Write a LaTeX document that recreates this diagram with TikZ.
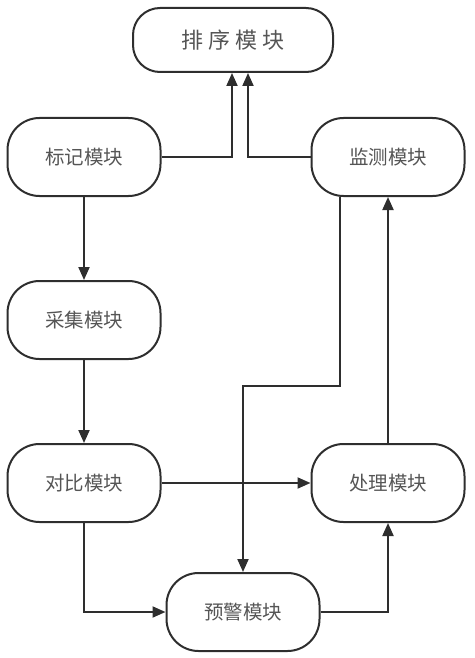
\documentclass[tikz,border=0pt]{standalone}
\usepackage{fontspec}
\newfontfamily\cjk{Noto Sans CJK SC}
\usepackage{tikz}
\usetikzlibrary{calc}
\usetikzlibrary{positioning}
\usetikzlibrary{arrows.meta}

\definecolor{linegray}{HTML}{2E2E2E}
\definecolor{textgray}{HTML}{555555}

\tikzset{
    module/.style={draw=linegray, line width=2pt, rounded corners=32pt,
        minimum width=153pt, minimum height=78pt, inner sep=0pt,
        text=textgray, font=\cjk\fontsize{19.5pt}{22pt}\selectfont},
    flow/.style={draw=linegray, line width=2pt, ->},
    >={Triangle[length=13pt, width=11pt]}
}

\begin{document}
\begin{tikzpicture}[x=1pt, y=-1pt]
        \useasboundingbox (0, 0) rectangle (474, 658);

        % Top: sorting module
        \node[module, minimum width=200pt, minimum height=64pt, rounded corners=27pt,
              font=\cjk\fontsize{22pt}{24pt}\selectfont] (sort) at (233, 40)
              {排\hspace{5pt}序\hspace{5pt}模\hspace{5pt}块};

        % Left column
        \node[module] (mark) at (84, 157) {标记模块};
        \node[module] (collect) at (84, 320) {采集模块};
        \node[module] (compare) at (84, 483) {对比模块};

        % Right column
        \node[module] (monitor) at (388, 157) {监测模块};
        \node[module] (process) at (388, 483) {处理模块};

        % Bottom: warning module
        \node[module] (warn) at (243, 612) {预警模块};

        % Into the sorting module
        \draw[flow] (mark.east) -| ([xshift=-1pt]sort.south);
        \draw[flow] (monitor.west) -| ([xshift=15pt]sort.south);

        % Down the left column
        \draw[flow] (mark) -- (collect);
        \draw[flow] (collect) -- (compare);

        % Compare to process and warning
        \draw[flow] (compare) -- (process);
        \draw[flow] (compare.south) |- (warn.west);

        % Warning back up to process, then monitor
        \draw[flow] (warn.east) -| (process.south);
        \draw[flow] (process) -- (monitor);

        % Monitor down to warning
        \draw[flow] ([xshift=-48pt]monitor.south) -- ++(0, 189) -| (warn.north);

    \end{tikzpicture}
\end{document}
